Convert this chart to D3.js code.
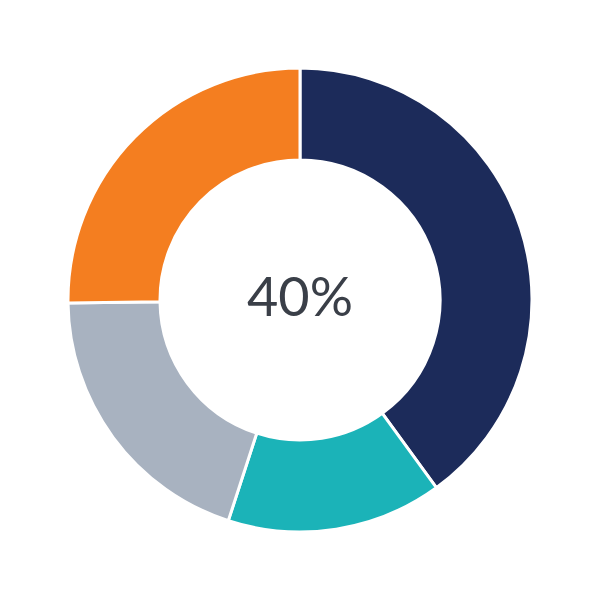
<!DOCTYPE html>
<html>
<head>
<meta charset="utf-8">
<script src="https://cdn.jsdelivr.net/npm/d3@7"></script>
<style>
  html, body { margin: 0; padding: 0; background: #fff; }
</style>
</head>
<body>
<div id="chart"></div>
<script>
// slice data, clockwise from 12 o'clock
const categories = ['A', 'B', 'C', 'D'];
const values = [40, 15, 19.8, 25.2];
const colors = ['#1c2b5a', '#1bb3b8', '#a8b2c0', '#f47e20'];
const centerLabel = '40%';

const width = 600, height = 600;
const outerR = 232, innerR = 140;

const svg = d3.select('#chart').append('svg')
  .attr('width', width)
  .attr('height', height);

const g = svg.append('g')
  .attr('transform', `translate(${width / 2}, ${height / 2})`);

const pie = d3.pie().sort(null).value(d => d.value);
const arc = d3.arc().innerRadius(innerR).outerRadius(outerR);

const data = categories.map((c, i) => ({name: c, value: values[i]}));

g.selectAll('path')
  .data(pie(data))
  .enter().append('path')
  .attr('d', arc)
  .style('fill', (d, i) => colors[i])
  .style('stroke', '#fff')
  .style('stroke-width', 3);

g.append('text')
  .attr('y', -3)
  .attr('dy', '0.35em')
  .style('text-anchor', 'middle')
  .style('font-family', 'Lato, sans-serif')
  .style('font-weight', 400)
  .style('font-size', '54px')
  .style('fill', '#3a3f48')
  .text(centerLabel);
</script>
</body>
</html>
